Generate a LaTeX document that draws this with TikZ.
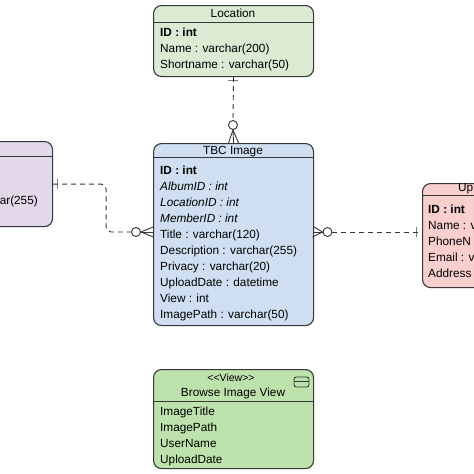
\documentclass[tikz,border=0pt]{standalone}
\usepackage{fontspec}
\setmainfont{Liberation Sans}
\usepackage{xcolor}
\usepackage{tikz}
\usetikzlibrary{positioning}

\definecolor{locgreen}{RGB}{218,234,211}
\definecolor{imgblue}{RGB}{207,222,240}
\definecolor{albpurple}{RGB}{226,216,234}
\definecolor{usrpink}{RGB}{248,207,205}
\definecolor{viewgreen}{RGB}{190,226,172}
\definecolor{edge}{RGB}{55,55,55}

\begin{document}
\begin{tikzpicture}[x=1pt, y=-1pt, font=\fontsize{11.8}{16}\selectfont]
    \tikzstyle{entity} = [rectangle, rounded corners=8pt, draw=edge, line width=1.1pt, anchor=north west, inner sep=0pt]
    \tikzstyle{divider} = [draw=edge, line width=1pt]
    \tikzstyle{title} = [inner sep=0pt, anchor=base]
    \tikzstyle{field} = [inner sep=0pt, anchor=base west]
    \tikzstyle{rel} = [draw=edge, line width=0.9pt, dash pattern=on 5pt off 4pt]
    \tikzstyle{foot} = [draw=edge, line width=0.9pt]
    \tikzstyle{optional} = [circle, draw=edge, fill=white, line width=0.9pt, minimum size=9pt, inner sep=0pt]
    \tikzstyle{onev} = [rectangle, draw=edge, line width=0.9pt, inner sep=0pt, minimum width=0pt, minimum height=10pt]
    \tikzstyle{oneh} = [rectangle, draw=edge, line width=0.9pt, inner sep=0pt, minimum width=10pt, minimum height=0pt]

    \useasboundingbox (0,0) rectangle (474,474);
    \fill[white] (0,0) rectangle (474,474);
    \clip (0,0) rectangle (474,474);

    % Location table
    \node [entity, fill=locgreen, minimum width=160pt, minimum height=71pt] (loc) at (153,5) {};
    \draw [divider] ([yshift=-17pt]loc.north west) -- ([yshift=-17pt]loc.north east);
    \node [title] (loc-t) at (233,17) {Location};
    \foreach \row [count=\i from 0] in {{\textbf{ID : int}}, {Name : varchar(200)}, {Shortname : varchar(50)}}
        \node [field] (loc-f\i) at (160, 36+16*\i) {\row};

    % TBC Image table
    \node [entity, fill=imgblue, minimum width=160pt, minimum height=182pt] (img) at (153,143) {};
    \draw [divider] ([yshift=-14pt]img.north west) -- ([yshift=-14pt]img.north east);
    \node [title] (img-t) at (233,154) {TBC Image};
    \foreach \row [count=\i from 0] in {{\textbf{ID : int}}, {\textit{AlbumID : int}}, {\textit{LocationID : int}}, {\textit{MemberID : int}},
        {Title : varchar(120)}, {Description : varchar(255)}, {Privacy : varchar(20)}, {UploadDate : datetime}, {View : int}, {ImagePath : varchar(50)}}
        \node [field] (img-f\i) at (160, 174+16*\i) {\row};

    % Album table (cut off at the left)
    \node [entity, fill=albpurple, minimum width=112pt, minimum height=85pt] (alb) at (-60,141) {};
    \draw [divider] ([yshift=-15pt]alb.north west) -- ([yshift=-15pt]alb.north east);
    \node [field, anchor=base east] (alb-f0) at (38,204) {ar(255)};

    % User table (cut off at the right)
    \node [entity, fill=usrpink, minimum width=110pt, minimum height=104pt] (usr) at (422,183) {};
    \draw [divider] ([yshift=-12pt]usr.north west) -- ([yshift=-12pt]usr.north east);
    \node [title, anchor=base west] (usr-t) at (458,191) {Up};
    \foreach \row [count=\i from 0] in {{\textbf{ID : int}}, {Name : v}, {PhoneN}, {Email : v}, {Address}}
        \node [field] (usr-f\i) at (428, 213+16*\i) {\row};

    % Browse Image View
    \node [entity, fill=viewgreen, minimum width=160pt, minimum height=99pt] (view) at (153,369) {};
    \draw [divider] ([yshift=-32pt]view.north west) -- ([yshift=-32pt]view.north east);
    \node [title, font=\fontsize{10.5}{12}\selectfont] (view-s) at (231,381) {\textless\kern0pt\textless\kern0pt View\kern0pt\textgreater\kern0pt\textgreater};
    \node [title] (view-t) at (233,396) {Browse Image View};
    \draw [foot, rounded corners=2.5pt] (294,377) rectangle (309,387);
    \draw [foot] (294,381) -- (309,381);
    \foreach \row [count=\i from 0] in {{ImageTitle}, {ImagePath}, {UserName}, {UploadDate}}
        \node [field] (view-f\i) at (160, 415+16*\i) {\row};

    % Location -- TBC Image
    \node [oneh] (loc-one) at (233,80) {};
    \node [optional] (loc-o) at (233,125) {};
    \draw [rel] (loc.south) -- (loc-o.north);
    \draw [foot] (loc-o.south) -- (img.north);
    \draw [foot] ([xshift=-5pt]img.north) -- (loc-o.south) -- ([xshift=5pt]img.north);

    % Album -- TBC Image
    \node [onev] (alb-one) at (57,183.5) {};
    \node [optional] (img-lo) at (136,232) {};
    \draw [rel, rounded corners=5pt] (alb.east) -- ++(53,0) |- (img-lo.west);
    \draw [foot] (img-lo.east) -- (img.west |- img-lo);
    \draw [foot] (img.west |- img-lo) ++(0,-5) -- (img-lo.east) -- ++(12.5,5);

    % TBC Image -- User
    \node [onev] (usr-one) at (416,232) {};
    \node [optional] (img-ro) at (327.5,232) {};
    \draw [rel] (img-ro.east) -- (usr.west |- img-ro);
    \draw [foot] (img.east |- img-ro) -- (img-ro.west);
    \draw [foot] (img.east |- img-ro) ++(0,-5) -- (img-ro.west) -- ++(-10,5);
\end{tikzpicture}
\end{document}
